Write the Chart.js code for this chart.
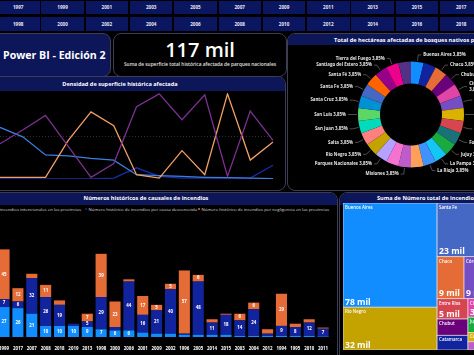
<!DOCTYPE html>
<html><head><meta charset="utf-8">
<script src="https://cdn.jsdelivr.net/npm/chart.js@4.4.1/dist/chart.umd.min.js"></script>
<style>
html,body{margin:0;padding:0;background:#000;width:474px;height:355px;overflow:hidden;font-family:'Open Sans',sans-serif;position:relative;}
.a{position:absolute;white-space:nowrap;}
.btn{position:absolute;height:13.5px;width:42.5px;background:#0b1661;color:#e8e8f2;font-size:4.6px;font-weight:700;display:flex;align-items:center;justify-content:center;}
.card{position:absolute;border:1px solid #3c3c52;border-radius:8px;box-sizing:border-box;overflow:hidden;background:#000;}
.hdr{position:absolute;left:0;right:0;top:0;background:#0c1659;}
.ttl{position:absolute;white-space:nowrap;color:#fff;font-weight:700;font-size:5.6px;line-height:6px;}
canvas{position:absolute;}
</style></head><body>
<div id="slicer"></div>

<div class="card" style="left:-12px;top:33px;width:123px;height:44px;background:#0c1659;"></div>
<div class="a" style="left:3px;top:48px;color:#fff;font-weight:700;font-size:10.6px;line-height:14px;">Power BI - Edición 2</div>
<div class="card" style="left:113px;top:33px;width:174px;height:44px;"></div>
<div class="a" id="kpi" style="left:200px;top:38px;transform:translateX(-50%);color:#fff;font-weight:600;font-size:20px;line-height:24px;"></div>
<div class="a" style="left:200px;top:62px;transform:translateX(-50%);color:#e0e0e0;font-weight:600;font-size:4.8px;line-height:5px;">Suma de superficie total histórica afectada de parques nacionales</div>

<div class="card" style="left:-12px;top:76px;width:298px;height:115px;"><div class="hdr" style="height:14px;"></div></div>
<div class="ttl" style="left:120px;top:81px;transform:translateX(-50%);">Densidad de superficie histórica afectada</div>

<div class="card" style="left:287px;top:33px;width:200px;height:158px;"><div class="hdr" style="height:11px;"></div></div>
<div class="ttl" style="left:334px;top:37px;">Total de hectáreas afectadas de bosques nativos por provincia</div>

<div class="card" style="left:-12px;top:192px;width:350px;height:175px;"><div class="hdr" style="height:12px;"></div></div>
<div class="ttl" style="left:146px;top:194.5px;transform:translateX(-50%);">Números históricos de causales de incendios</div>

<div class="card" style="left:339px;top:192px;width:160px;height:175px;"><div class="hdr" style="height:12px;"></div></div>
<div class="ttl" style="left:377px;top:194.5px;">Suma de Número total de incendios por provincia</div>

<div id="legend"></div>

<canvas id="line" width="295" height="100" style="left:-10px;top:90px;"></canvas>
<canvas id="donut" width="250" height="144" style="left:287px;top:46px;"></canvas>
<canvas id="bars" width="345" height="145" style="left:-10px;top:210px;"></canvas>
<canvas id="tree" width="148" height="147" style="left:343px;top:203px;"></canvas>

<script>
// ---------- DATA ----------
const sliceRow1 = ['1997','1999','2001','2003','2005','2007','2009','2011','2013','2015','2017'];
const sliceRow2 = ['1998','2000','2002','2004','2006','2008','2010','2012','2014','2016','2018'];
const kpiValue = 117000;

const lineYears = ['2001','2018','2005','1999','2010','2008','2012','2017','2009','2019','2002','1997','2004'];
const linePurple = [41,57,74,38,2,18,84,99,69,98,3,79,45];
const lineOrange = [2,2,2,45,78,62,5,1,33,5,99,22,43];
const lineBlue   = [60,49,28,27,24,22,5,4,3,2,1.5,1,0.5];
const lineNavy   = [0,0,0,0,0,1,13,3,1,1,1,1,16];

const provinces = ['Buenos Aires','Catamarca','Chaco','Chubut','Ciudad Autónoma de Buenos Aires','Córdoba','Corrientes','Entre Ríos','Formosa','Jujuy','La Pampa','La Rioja','Mendoza','Misiones','Neuquén','Parques Nacionales','Río Negro','Salta','San Juan','San Luis','Santa Cruz','Santa Fe','Santa Fé','Santiago del Estero','Tierra del Fuego','Tucumán'];
const hectareas = [1,1,1,1,1,1,1,1,1,1,1,1,1,1,1,1,1,1,1,1,1,1,1,1,1,1];
const unlabeled = ['Catamarca','Mendoza','Neuquén','Tucumán'];
const palette = ['#118DFF','#12239E','#E66C37','#6B007B','#E044A7','#744EC2','#D9B300','#D64550','#197278','#1AAB40','#15C6F4','#4092FF','#FFA058','#BE5DC9','#F472D0','#B5A1FF','#C4A200','#FF8080','#00DBBC','#5BD667','#0091D5','#4668C5','#FF6300','#99008A','#EC008C','#533285'];

const barYears = ['1999','2017','2007','2008','2018','2019','2013','1998','2000','2006','2001','2009','2002','1996','2005','2014','2015','2003','2004','2012','1994','1995','2010','2011'];
const intencionales = [27,26,21,10,10,10,9,7,6,6,4,3,3,2,2,2,2,1,1,1,1,1,1,0.5];
const desconocida   = [7,6,32,26,19,2,5,29,3,44,16,21,40,1,48,11,18,14,24,2,9,8,12,7];
const negligencia   = [45,12,4,11,4,0,7,39,23,2,17,5,5,57,6,3,1,6,6,4,29,3,3,1];
const barSeries = ['Número histórico de incendios intencionales en las provincias','Número histórico de incendios por causa desconocida','Número histórico de incendios por negligencia en las provincias'];

const tmNames  = ['Buenos Aires','Río Negro','Santa Fe','Chaco','Córdoba','Entre Ríos','Chubut','Catamarca','Ciudad Autónoma de Buenos Aires','Jujuy','Formosa','Corrientes','Misiones','Neuquén','Mendoza','Salta'];
const tmValues = [78000,32000,23000,9000,9000,5000,4000,3600,3400,1800,1000,900,800,700,500,300];

// ---------- HTML parts ----------
const sl = document.getElementById('slicer');
[sliceRow1, sliceRow2].forEach((row, r) => row.forEach((t, i) => {
  const d = document.createElement('div'); d.className = 'btn';
  d.style.left = (-3 + i * 44.3) + 'px'; d.style.top = (r ? 17.2 : 0.7) + 'px';
  d.textContent = t; sl.appendChild(d);
}));
document.getElementById('kpi').textContent = Math.round(kpiValue / 1000) + ' mil';

const barColors = ['#118DFF', '#12239E', '#E66C37'];
const lg = document.getElementById('legend');
const legendPos = [{right: 81}, {left: 85}, {left: 198}];
barSeries.forEach((s, i) => {
  const d = document.createElement('div'); d.className = 'a';
  d.style.cssText = 'top:206.5px;font-size:4.3px;line-height:5px;color:#d8d8d8;display:flex;align-items:center;';
  if (legendPos[i].right !== undefined) d.style.right = (474 - legendPos[i].right) + 'px'; else d.style.left = legendPos[i].left + 'px';
  d.innerHTML = '<span style="display:inline-block;width:2.4px;height:2.4px;border-radius:50%;background:' + barColors[i] + ';margin-right:1.2px"></span>' + s;
  lg.appendChild(d);
});

// ---------- Charts ----------
Chart.defaults.font.family = "'Open Sans', sans-serif";
Chart.defaults.color = '#fff';
const base = {responsive: false, animation: false, devicePixelRatio: 1,
  plugins: {legend: {display: false}, tooltip: {enabled: false}}};

new Chart(document.getElementById('line'), {
  type: 'line',
  data: {labels: lineYears, datasets: [
    {data: linePurple, borderColor: '#7a3290'},
    {data: lineOrange, borderColor: '#f2a066'},
    {data: lineBlue, borderColor: '#3d7fe0'},
    {data: lineNavy, borderColor: '#1c2aa6'}
  ]},
  options: Object.assign({}, base, {
    layout: {autoPadding: false, padding: {left: 10, right: 12, top: 3, bottom: 2}},
    elements: {point: {radius: 0}, line: {borderWidth: 1.3, tension: 0}},
    scales: {
      x: {grid: {display: false}, border: {display: false},
          ticks: {color: '#fff', font: {size: 4.5, weight: 'bold'}, padding: 1, maxRotation: 0, autoSkip: false},
          afterFit(s) { s.height = 9; }},
      y: {min: 0, max: 100, ticks: {display: false, stepSize: 50}, border: {display: false, dash: [1, 2]},
          grid: {drawTicks: false, color: c => c.tick && c.tick.value === 50 ? 'rgba(255,255,255,0.18)' : 'rgba(0,0,0,0)'},
          afterFit(s) { s.width = 0; }}
    }
  })
});

const donutLabels = {
  id: 'donutLabels',
  afterDatasetsDraw(chart) {
    const ctx = chart.ctx; const meta = chart.getDatasetMeta(0);
    const total = hectareas.reduce((a, b) => a + b, 0);
    ctx.save();
    ctx.font = "bold 4.4px 'Open Sans'"; ctx.fillStyle = '#e6e6e6'; ctx.strokeStyle = '#9a9a9a'; ctx.lineWidth = 0.5;
    ctx.textBaseline = 'middle';
    meta.data.forEach((arc, i) => {
      if (unlabeled.includes(provinces[i])) return;
      const p = arc.getProps(['x', 'y', 'startAngle', 'endAngle', 'outerRadius'], true);
      const m = (p.startAngle + p.endAngle) / 2;
      const c = Math.cos(m), s = Math.sin(m);
      const x1 = p.x + c * (p.outerRadius + 1), y1 = p.y + s * (p.outerRadius + 1);
      const x2 = p.x + c * (p.outerRadius + 7), y2 = p.y + s * (p.outerRadius + 7);
      const dir = c >= 0 ? 1 : -1;
      const x3 = x2 + dir * 3;
      ctx.beginPath(); ctx.moveTo(x1, y1); ctx.lineTo(x2, y2); ctx.lineTo(x3, y2); ctx.stroke();
      const pct = (hectareas[i] / total * 100).toFixed(2).replace('.', ',') + '%';
      ctx.textAlign = dir > 0 ? 'left' : 'right';
      const tx = x3 + dir * 2;
      if (provinces[i].length > 20) {
        ctx.fillText(provinces[i], tx, y2 - 2.7); ctx.fillText(pct, tx, y2 + 2.7);
      } else ctx.fillText(provinces[i] + ' ' + pct, tx, y2);
    });
    ctx.restore();
  }
};
new Chart(document.getElementById('donut'), {
  type: 'doughnut',
  data: {labels: provinces, datasets: [{data: hectareas, backgroundColor: palette, borderWidth: 0}]},
  options: Object.assign({}, base, {cutout: 31, layout: {autoPadding: false, padding: {left: 71, right: 73, top: 15.5, bottom: 22.5}}}),
  plugins: [donutLabels]
});

const barLabels = {
  id: 'barLabels',
  afterDatasetsDraw(chart) {
    const ctx = chart.ctx; ctx.save();
    ctx.font = "bold 4.4px 'Open Sans'"; ctx.fillStyle = '#fff'; ctx.textAlign = 'center'; ctx.textBaseline = 'middle';
    chart.data.datasets.forEach((ds, di) => {
      chart.getDatasetMeta(di).data.forEach((el, i) => {
        const v = ds.data[i]; if (v < 5) return;
        const p = el.getProps(['x', 'y', 'base'], true);
        ctx.fillText(String(v), p.x, (p.y + p.base) / 2);
      });
    });
    ctx.restore();
  }
};
new Chart(document.getElementById('bars'), {
  type: 'bar',
  data: {labels: barYears, datasets: [
    {label: barSeries[0], data: intencionales, backgroundColor: barColors[0]},
    {label: barSeries[1], data: desconocida, backgroundColor: barColors[1]},
    {label: barSeries[2], data: negligencia, backgroundColor: barColors[2]}
  ]},
  options: Object.assign({}, base, {
    layout: {autoPadding: false, padding: {left: 7.1, right: 5, top: 5, bottom: 0}},
    datasets: {bar: {barPercentage: 0.8, categoryPercentage: 1}},
    scales: {
      x: {stacked: true, grid: {display: false}, border: {display: false},
          ticks: {color: '#fff', font: {size: 4.4, weight: 'bold'}, padding: 1, maxRotation: 0, autoSkip: false},
          afterFit(s) { s.height = 18; }},
      y: {stacked: true, min: 0, max: 110, ticks: {display: false}, grid: {display: false}, border: {display: false},
          afterFit(s) { s.width = 0; }}
    }
  }),
  plugins: [barLabels]
});

function squarify(values, x0, y0, x1, y1) {
  const ratio = (1 + Math.sqrt(5)) / 2, out = [], n = values.length;
  let i0 = 0, i1 = 0, value = values.reduce((a, b) => a + b, 0);
  while (i0 < n) {
    const dx = x1 - x0, dy = y1 - y0;
    let sum = values[i1++], minV = sum, maxV = sum;
    const alpha = Math.max(dy / dx, dx / dy) / (value * ratio);
    let beta = sum * sum * alpha, minRatio = Math.max(maxV / beta, beta / minV);
    for (; i1 < n; ++i1) {
      const v = values[i1]; sum += v;
      if (v < minV) minV = v; if (v > maxV) maxV = v;
      beta = sum * sum * alpha;
      const r = Math.max(maxV / beta, beta / minV);
      if (r > minRatio) { sum -= v; break; }
      minRatio = r;
    }
    if (dx < dy) {
      const h = dy * sum / value; let x = x0;
      for (let k = i0; k < i1; k++) { const w = dx * values[k] / sum; out[k] = [x, y0, x + w, y0 + h]; x += w; }
      y0 += h;
    } else {
      const w = dx * sum / value; let y = y0;
      for (let k = i0; k < i1; k++) { const h = dy * values[k] / sum; out[k] = [x0, y, x0 + w, y + h]; y += h; }
      x0 += w;
    }
    value -= sum; i0 = i1;
  }
  return out;
}
const TW = 148, TH = 147;
const treemapPlugin = {
  id: 'treemap',
  afterDatasetsDraw(chart) {
    const ctx = chart.ctx, xs = chart.scales.x, ys = chart.scales.y;
    const rects = squarify(tmValues, 0, 0, TW, TH);
    ctx.save();
    rects.forEach((r, i) => {
      const X0 = xs.getPixelForValue(r[0]), X1 = xs.getPixelForValue(r[2]);
      const Y0 = ys.getPixelForValue(r[1]), Y1 = ys.getPixelForValue(r[3]);
      ctx.fillStyle = palette[provinces.indexOf(tmNames[i])];
      ctx.fillRect(X0, Y0, X1 - X0, Y1 - Y0);
      ctx.strokeStyle = 'rgba(230,230,230,0.85)'; ctx.lineWidth = 0.8;
      ctx.strokeRect(X0, Y0, X1 - X0, Y1 - Y0);
      const w = X1 - X0, h = Y1 - Y0;
      if (w > 12 && h > 9) {
        ctx.fillStyle = '#fff'; ctx.font = "600 4.4px 'Open Sans'"; ctx.textAlign = 'left'; ctx.textBaseline = 'top';
        ctx.fillText(tmNames[i], X0 + 2, Y0 + 2.5);
      }
      if (w > 18 && h > 18.5) {
        ctx.font = "bold 8.6px 'Open Sans'"; ctx.textBaseline = 'alphabetic';
        ctx.fillText(Math.round(tmValues[i] / 1000) + ' mil', X0 + 2, Y1 - 2.5);
      }
    });
    ctx.restore();
  }
};
new Chart(document.getElementById('tree'), {
  type: 'scatter',
  data: {datasets: [{data: []}]},
  options: Object.assign({}, base, {
    layout: {autoPadding: false, padding: 0},
    scales: {x: {type: 'linear', min: 0, max: TW, display: false}, y: {type: 'linear', min: 0, max: TH, reverse: true, display: false}}
  }),
  plugins: [treemapPlugin]
});
</script>
</body></html>
